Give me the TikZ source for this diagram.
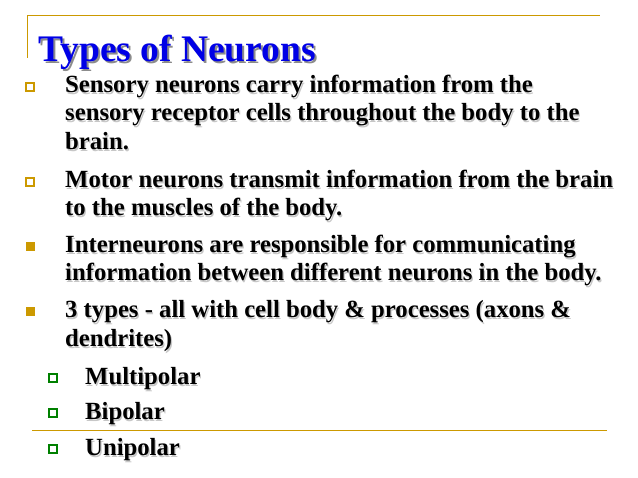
\documentclass[tikz,border=0pt]{standalone}
\usepackage{fontspec}
\setmainfont{Liberation Serif}
\definecolor{gold}{RGB}{204,153,0}
\definecolor{subgreen}{RGB}{0,128,0}
\definecolor{ttl}{RGB}{0,0,230}
\newcommand{\txtline}[3]{\node[shd] at (#1+1.2,#2+1.2) {#3};\node[txt] at (#1,#2) {#3};}
\begin{document}
\begin{tikzpicture}[x=1pt,y=-1pt,
  txt/.style={anchor=base west,inner sep=0pt,font=\fontsize{24.7}{28}\selectfont\bfseries},
  shd/.style={txt,text=black!22},
  hbox/.style={draw=gold,line width=1.5pt,fill=white,minimum size=8pt,inner sep=0pt},
  fbox/.style={fill=gold,minimum size=9pt,inner sep=0pt},
  gbox/.style={draw=subgreen,line width=1.2pt,fill=white,minimum size=8pt,inner sep=0pt}]
\useasboundingbox (0,0) rectangle (638,478);
\fill[white] (0,0) rectangle (638,478);
\draw[gold,line width=0.8pt] (27,58) -- (27,15) -- (600,15);
\draw[gold,line width=0.8pt] (32,430) -- (607,430);
\node[anchor=base west,inner sep=0pt,font=\fontsize{37.5}{40}\selectfont\bfseries,text=black!45] at (40,64) {Types of Neurons};
\node[anchor=base west,inner sep=0pt,font=\fontsize{37.5}{40}\selectfont\bfseries,text=ttl] (title) at (38,62) {Types of Neurons};
\node[hbox] (b1) at (30,87) {};
\node[hbox] (b2) at (30,182) {};
\node[fbox] (b3) at (30,247) {};
\node[fbox] (b4) at (30,312) {};
\node[gbox] (s1) at (53,378) {};
\node[gbox] (s2) at (53,413) {};
\node[gbox] (s3) at (53,449) {};
\txtline{65}{93}{Sensory neurons carry information from the}
\txtline{65}{121}{sensory receptor cells throughout the body to the}
\txtline{65}{150}{brain.}
\txtline{65}{188}{Motor neurons transmit information from the brain}
\txtline{65}{216}{to the muscles of the body.}
\txtline{65}{253}{Interneurons are responsible for communicating}
\txtline{65}{281}{information between different neurons in the body.}
\txtline{65}{318}{3 types - all with cell body \& processes (axons \&}
\txtline{65}{347}{dendrites)}
\txtline{85}{385}{Multipolar}
\txtline{85}{420}{Bipolar}
\txtline{85}{456}{Unipolar}
\end{tikzpicture}
\end{document}
